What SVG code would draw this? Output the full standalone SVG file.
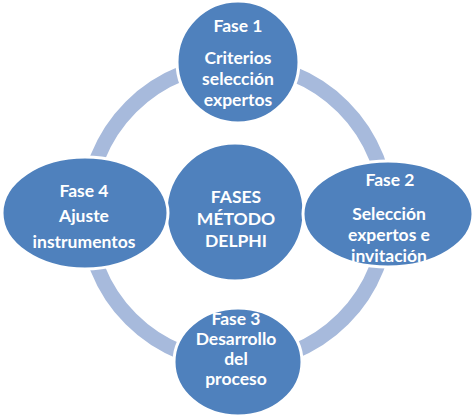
<svg xmlns="http://www.w3.org/2000/svg" width="474" height="418" viewBox="0 0 474 418">
<style>
.node{fill:#4f81bd;stroke:#ffffff;stroke-width:3}
.ring{fill:none;stroke:#a7badc;stroke-width:15}
text{font-family:Lato,"Liberation Sans",sans-serif;font-weight:bold;font-size:17.5px;fill:#ffffff;text-anchor:middle}
</style>
<rect width="474" height="418" fill="#ffffff"/>
<g id="connectors">
<circle class="ring" cx="237" cy="213" r="150"/>
</g>
<g id="center">
<circle class="node" cx="235" cy="212" r="69"/>
<text x="236" y="203">FASES</text>
<text x="236" y="225">MÉTODO</text>
<text x="236" y="247">DELPHI</text>
</g>
<g id="fase1">
<circle class="node" cx="238" cy="62" r="61"/>
<text x="238" y="32">Fase 1</text>
<text x="238" y="64">Criterios</text>
<text x="238" y="85">selección</text>
<text x="238" y="106">expertos</text>
</g>
<g id="fase2">
<ellipse class="node" cx="388" cy="214" rx="85" ry="53"/>
<text x="390" y="186">Fase 2</text>
<text x="389" y="220">Selección</text>
<text x="389" y="241">expertos e</text>
<text x="389" y="262">invitación</text>
</g>
<g id="fase3">
<ellipse class="node" cx="238" cy="362" rx="64" ry="54"/>
<text x="236" y="325">Fase 3</text>
<text x="236" y="345">Desarrollo</text>
<text x="236" y="365">del</text>
<text x="236" y="385">proceso</text>
</g>
<g id="fase4">
<ellipse class="node" cx="85" cy="213" rx="83" ry="56"/>
<text x="84" y="197">Fase 4</text>
<text x="84" y="222">Ajuste</text>
<text x="84" y="248">instrumentos</text>
</g>
</svg>
